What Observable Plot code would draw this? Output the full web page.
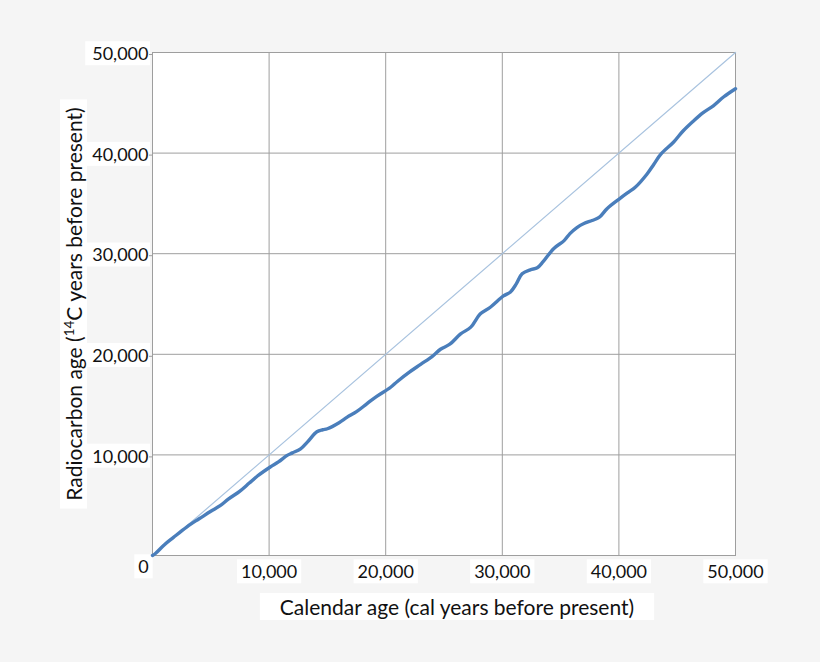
<!DOCTYPE html>
<html><head><meta charset="utf-8">
<script src="https://cdn.jsdelivr.net/npm/d3@7"></script>
<script src="https://cdn.jsdelivr.net/npm/@observablehq/plot@0.6"></script>
<style>
body{margin:0;background:#f5f5f5;}
#chart svg{display:block}
</style>
</head><body><div id="chart"></div>
<script>
// Calendar age (cal years BP) and radiocarbon age (14C years BP)
const calAge = [0, 250, 1000, 1800, 2500, 3250, 4000, 5000, 5800, 6500, 7500, 8300, 9000, 10100, 10800, 11550, 12000, 12700, 13300, 14100, 14600, 15000, 16000, 16700, 17500, 18400, 19200, 20400, 21000, 22000, 23000, 24000, 24700, 25500, 26400, 27300, 28100, 29000, 30100, 30700, 31200, 31700, 32400, 33000, 33500, 34400, 35300, 35800, 36400, 37000, 37700, 38300, 39000, 40100, 40800, 41400, 42400, 43000, 43600, 44700, 45500, 46400, 47200, 48100, 49000, 50000];
const c14Age = [0, 200, 1050, 1800, 2450, 3100, 3650, 4400, 4950, 5600, 6400, 7200, 7900, 8800, 9300, 9950, 10200, 10600, 11300, 12300, 12500, 12600, 13200, 13750, 14300, 15100, 15800, 16700, 17300, 18200, 19000, 19800, 20500, 21000, 22000, 22700, 24000, 24700, 25800, 26200, 27000, 28000, 28400, 28600, 29200, 30500, 31300, 32000, 32600, 33000, 33300, 33600, 34500, 35500, 36100, 36600, 37900, 38900, 39900, 41100, 42200, 43200, 44000, 44700, 45600, 46400];
// 1:1 reference line
const diagCal = [0, 50000];
const diagC14 = [0, 50000];
const xTicks = [0, 10000, 20000, 30000, 40000, 50000];
const yTicks = [10000, 20000, 30000, 40000, 50000];
const xTitle = "Calendar age (cal years before present)";
const yTitleParts = ["Radiocarbon age (", "14", "C years before present)"];

const curveData = calAge.map((x, i) => ({x, y: c14Age[i]}));
const diagData = diagCal.map((x, i) => ({x, y: diagC14[i]}));
const fmt = d3.format(",");
const ink = "#111";
const gridColor = "#9e9e9e";

const chart = Plot.plot({
  width: 820, height: 662,
  marginLeft: 152, marginRight: 85, marginTop: 52, marginBottom: 107,
  style: {background: "#f5f5f5", fontFamily: "Lato, sans-serif", fontSize: "18px", color: ink},
  x: {domain: [0, 50000]},
  y: {domain: [0, 50000]},
  marks: [
    Plot.frame({fill: "white", stroke: "none"}),
    Plot.gridX(xTicks, {stroke: gridColor, strokeOpacity: 1}),
    Plot.gridY([0, ...yTicks], {stroke: gridColor, strokeOpacity: 1}),
    Plot.frame({stroke: gridColor}),
    Plot.line(diagData, {x: "x", y: "y", stroke: "#a9c3df", strokeWidth: 1.2}),
    Plot.line(curveData, {x: "x", y: "y", stroke: "#4a7ebb", strokeWidth: 3.4, curve: "catmull-rom"}),
    Plot.axisX(xTicks.filter(d => d > 0), {tickSize: 0, tickPadding: 10, tickFormat: fmt, label: null, fill: ink}),
    Plot.text([0], {x: d => d, y: [0], text: d => String(d), lineAnchor: "top", dy: 5, dx: -9, fill: ink, fontSize: 18}),
    Plot.axisY(yTicks, {tickSize: 3, tickPadding: 1, tickFormat: fmt, label: null, stroke: gridColor, fill: ink, dy: 2})
  ]
});
document.getElementById("chart").appendChild(chart);

const svg = d3.select(chart);
// titles
const xt = svg.append("text")
  .attr("x", 457).attr("y", 615)
  .attr("text-anchor", "middle")
  .attr("font-size", 21).attr("fill", ink)
  .text(xTitle);
const yt = svg.append("text")
  .attr("transform", "translate(82,304) rotate(-90)")
  .attr("text-anchor", "middle")
  .attr("font-size", 21).attr("fill", ink);
yt.append("tspan").text(yTitleParts[0]);
yt.append("tspan").attr("font-size", 13.5).attr("dy", -8).text(yTitleParts[1]);
yt.append("tspan").attr("dy", 8).text(yTitleParts[2]);

// white label boxes
function box(el, padX, padY) {
  const b = el.getBBox();
  const ctm = el.getCTM();
  const pts = [[b.x, b.y], [b.x + b.width, b.y + b.height]].map(([x, y]) => {
    const p = chart.createSVGPoint();
    p.x = x; p.y = y;
    return p.matrixTransform(ctm);
  });
  const x0 = Math.min(pts[0].x, pts[1].x) - padX, x1 = Math.max(pts[0].x, pts[1].x) + padX;
  const y0 = Math.min(pts[0].y, pts[1].y) - padY, y1 = Math.max(pts[0].y, pts[1].y) + padY;
  return [x0, y0, x1, y1];
}
const boxes = [];
svg.selectAll("g[aria-label='x-axis tick label'] text, g[aria-label='text'] text").each(function() { boxes.push(box(this, 4, 1)); });
svg.selectAll("g[aria-label='y-axis tick label'] text").each(function() { const b = box(this, 7, 1); b[2] = Math.min(b[2], 150); boxes.push(b); });
boxes.push(box(xt.node(), 20, 1));
boxes.push(box(yt.node(), 1, 8));
const bg = svg.insert("g", ":first-child + *");
boxes.forEach(([x0, y0, x1, y1]) => {
  bg.append("rect").attr("x", x0).attr("y", y0).attr("width", x1 - x0).attr("height", y1 - y0).attr("fill", "white");
});
</script>
</body></html>
